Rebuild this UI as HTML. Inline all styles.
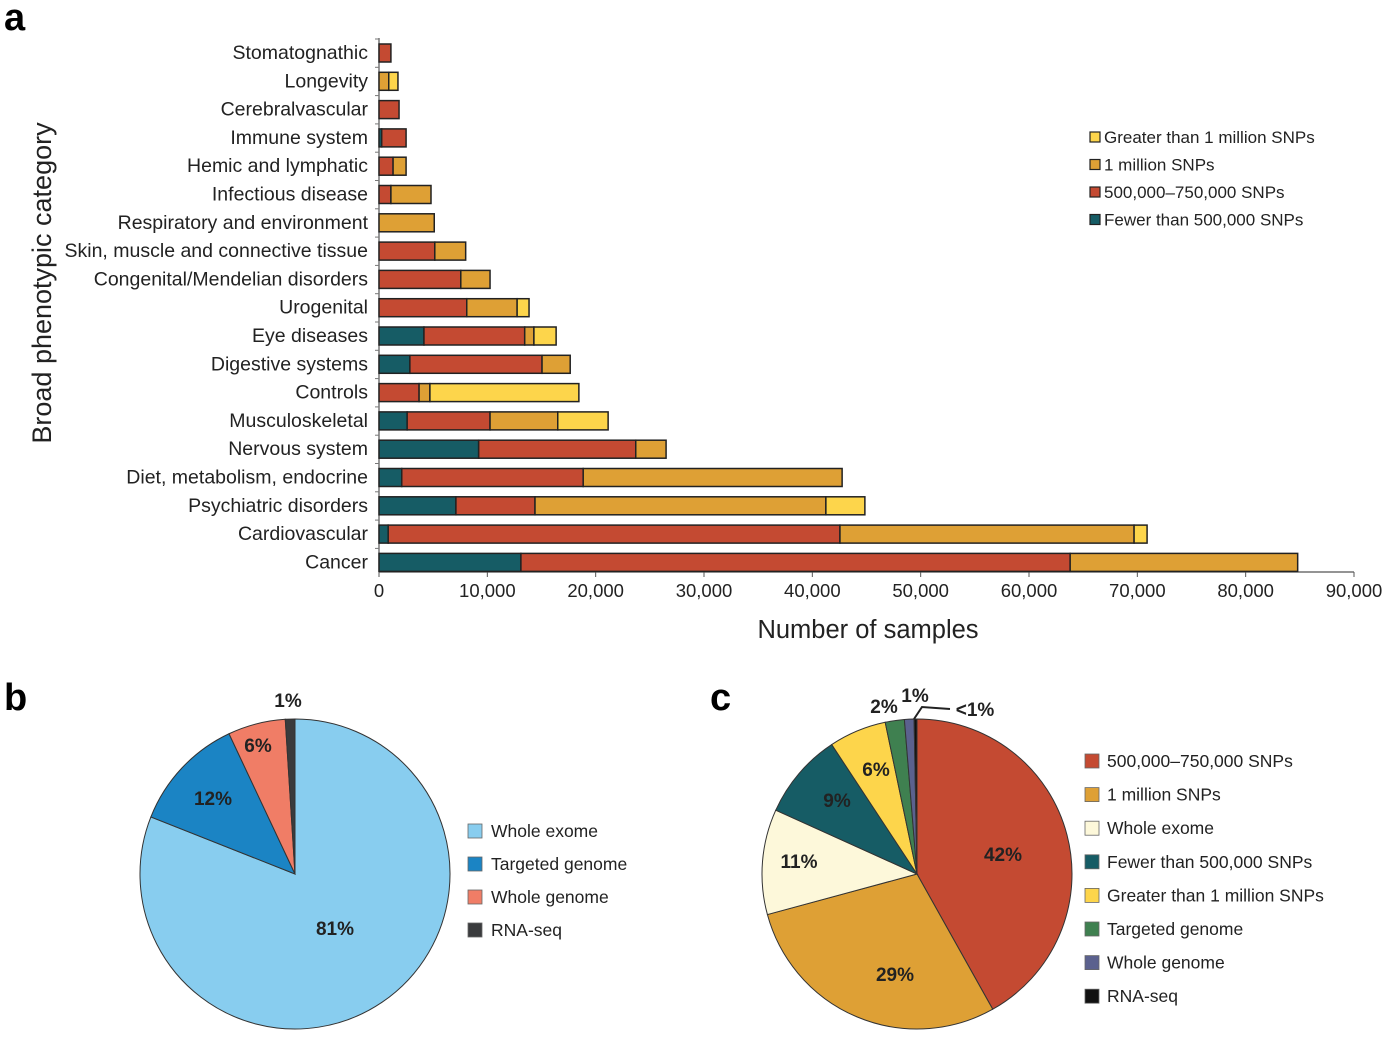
<!DOCTYPE html>
<html><head><meta charset="utf-8"><style>
body{margin:0;background:#fff;}
svg{display:block;font-family:"Liberation Sans",sans-serif;}
</style></head><body>
<svg id="fig" width="1395" height="1037" viewBox="0 0 1395 1037">
<text x="4" y="30" font-size="38" font-weight="bold">a</text>
<text x="4" y="710" font-size="38" font-weight="bold">b</text>
<text x="710" y="710" font-size="38" font-weight="bold">c</text>
<g id="bars"></g>
<g id="pieb"></g>
<g id="piec"></g>
</svg>
<script>
const categories=["Stomatognathic","Longevity","Cerebralvascular","Immune system","Hemic and lymphatic","Infectious disease","Respiratory and environment","Skin, muscle and connective tissue","Congenital/Mendelian disorders","Urogenital","Eye diseases","Digestive systems","Controls","Musculoskeletal","Nervous system","Diet, metabolism, endocrine","Psychiatric disorders","Cardiovascular","Cancer"];
const fewer500k=[0,0,0,250,0,0,0,0,0,0,4150,2850,0,2600,9200,2100,7100,850,13100];
const snp500to750k=[1100,0,1850,2250,1300,1100,0,5150,7550,8100,9300,12200,3700,7650,14500,16750,7300,41700,50700];
const snp1m=[0,900,0,0,1200,3700,5100,2850,2700,4650,850,2600,1000,6250,2800,23900,26850,27150,21000];
const greater1m=[0,850,0,0,0,0,0,0,0,1100,2050,0,13750,4650,0,0,3600,1200,0];
const xTicks=[0,10000,20000,30000,40000,50000,60000,70000,80000,90000];
const seriesNames=["Greater than 1 million SNPs","1 million SNPs","500,000–750,000 SNPs","Fewer than 500,000 SNPs"];
const pieBLabels=["Whole exome","Targeted genome","Whole genome","RNA-seq"];
const pieBValues=[81,12,6,1];
const pieCLabels=["500,000–750,000 SNPs","1 million SNPs","Whole exome","Fewer than 500,000 SNPs","Greater than 1 million SNPs","Targeted genome","Whole genome","RNA-seq"];
const pieCValues=[42,29,11,9,6,2,1,0.3];
const pieCText=["42%","29%","11%","9%","6%","2%","1%","<1%"];

const NS="http://www.w3.org/2000/svg";
function mk(tag,attrs,parent,txt){const e=document.createElementNS(NS,tag);for(const k in attrs)e.setAttribute(k,attrs[k]);if(txt!==undefined)e.textContent=txt;parent.appendChild(e);return e;}
const C={teal:"#165c65",red:"#c44a32",orange:"#dea035",yellow:"#fdd54b"};
const x0=379,pxPer=975/90000;
const xs=v=>x0+v*pxPer;
const ys=i=>53+i*28.3;
const g=document.getElementById('bars');
let ax=mk('line',{x1:x0,y1:38,x2:x0,y2:572,stroke:"#555","stroke-width":1.2},g);

let axx=mk('line',{x1:x0,y1:572,x2:xs(90000),y2:572,stroke:"#555","stroke-width":1.2},g);

xTicks.forEach(t=>{
  const tk=mk('line',{x1:xs(t),y1:572,x2:xs(t),y2:577,stroke:"#555"},g);
  
  const tl=mk('text',{x:xs(t),y:597,"text-anchor":"middle","font-size":18.5,fill:"#222"},g,t.toLocaleString('en-US'));
  
});
const xt=mk('text',{x:868,y:638,"text-anchor":"middle","font-size":25.5,fill:"#222"},g,"Number of samples");

const yt=mk('text',{x:0,y:0,"text-anchor":"middle","font-size":27,fill:"#222",transform:"translate(51,283) rotate(-90)"},g,"Broad phenotypic category");

categories.forEach((c,i)=>{
  const y=ys(i);
  const tk=mk('line',{x1:x0-4,y1:y-14,x2:x0,y2:y-14,stroke:"#777"},g);
  
  const lb=mk('text',{x:368,y:y+6,"text-anchor":"end","font-size":19.5,fill:"#222"},g,c);
  
  const segs=[[fewer500k[i],C.teal],[snp500to750k[i],C.red],[snp1m[i],C.orange],[greater1m[i],C.yellow]];
  let acc=0;
  segs.forEach(([v,col])=>{
    if(v<=0)return;
    const r=mk('rect',{x:xs(acc),y:y-9,width:v*pxPer,height:18,fill:col,stroke:"#222","stroke-width":1.5},g);
    
    acc+=v;
  });
});
const legCols=[C.yellow,C.orange,C.red,C.teal];
seriesNames.forEach((n,i)=>{
  const y=137+i*27.5;
  const s=mk('rect',{x:1090,y:y-5,width:10,height:10,fill:legCols[i],stroke:"#222","stroke-width":1.2},g);
  
  const t=mk('text',{x:1104,y:y+6,"font-size":17,fill:"#222"},g,n);
  
});

function pie(gid,cx,cy,r,vals,cols,texts,labelPos){
  const gg=document.getElementById(gid);
  const tot=vals.reduce((a,b)=>a+b,0);
  let a=0;
  vals.forEach((v,i)=>{
    const a1=a+v/tot*2*Math.PI;
    const p=(t)=>[cx+r*Math.sin(t),cy-r*Math.cos(t)];
    const [x1,y1]=p(a),[x2,y2]=p(a1);
    const large=(a1-a)>Math.PI?1:0;
    const s=mk('path',{d:`M${cx},${cy}L${x1},${y1}A${r},${r} 0 ${large} 1 ${x2},${y2}Z`,fill:cols[i],stroke:"#333","stroke-width":1},gg);
    
    if(labelPos[i]){
      const t=mk('text',{x:labelPos[i][0],y:labelPos[i][1],"text-anchor":"middle","font-size":19,"font-weight":"bold",fill:"#222"},gg,texts[i]);
      
    }
    a=a1;
  });
  return gg;
}
const colsB=["#88cdef","#1b84c4","#f07d66","#3a3b3d"];
const gb=pie('pieb',295,874,155,pieBValues,colsB,pieBValues.map(v=>v+"%"),[[335,935],[213,805],[258,752],[288,707]]);
pieBLabels.forEach((n,i)=>{
  const y=831+i*33;
  const s=mk('rect',{x:468,y:y-7,width:14,height:14,fill:colsB[i],stroke:"#666","stroke-width":0.8},gb);
  
  const t=mk('text',{x:491,y:y+6,"font-size":17.5,fill:"#222"},gb,n);
  
});
const colsC=["#c44a32","#dea035","#fdf8da","#165c65","#fdd54b","#3f8050","#5b618e","#111"];
const gc=pie('piec',917,874,155,pieCValues,colsC,pieCText,[[1003,861],[895,981],[799,868],[837,807],[876,776],[884,713],[915,702],null]);
const ld=mk('path',{d:"M914,719 L922,707 L950,709",fill:"none",stroke:"#222","stroke-width":2},gc);

const lt=mk('text',{x:975,y:716,"text-anchor":"middle","font-size":19,"font-weight":"bold",fill:"#222"},gc,pieCText[7]);

pieCLabels.forEach((n,i)=>{
  const y=761+i*33.6;
  const s=mk('rect',{x:1085,y:y-7,width:14,height:14,fill:colsC[i],stroke:"#666","stroke-width":0.8},gc);
  
  const t=mk('text',{x:1107,y:y+6,"font-size":17.5,fill:"#222"},gc,n);
  
});
</script>
</body></html>
